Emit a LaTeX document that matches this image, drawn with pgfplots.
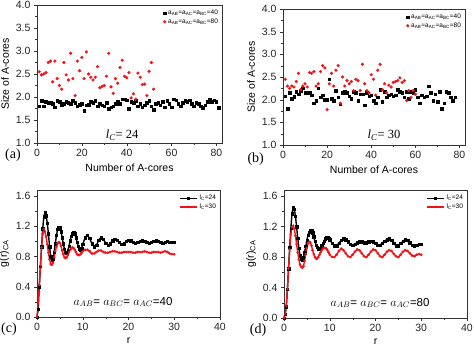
\documentclass[border=0pt]{standalone}
\usepackage{fontspec}
\setmainfont{Liberation Sans}
\newfontfamily\tnr{Liberation Serif}
\usepackage{pgfplots}
\usepackage{pgfplotstable}
\pgfplotsset{compat=1.18}

\pgfplotstableread{
x y
1 2.55
2 2.48
3 2.50
4 2.53
5 2.75
6 2.78
7 2.33
8 2.78
9 2.40
10 2.25
11 2.17
12 2.75
13 2.48
14 2.37
15 2.95
16 2.40
17 2.03
18 2.78
19 2.57
20 2.86
21 2.40
22 2.98
23 2.50
24 2.43
25 2.37
26 2.43
27 2.66
28 2.20
29 2.23
30 2.25
31 2.45
32 2.95
33 2.22
34 2.08
35 2.40
36 2.30
37 2.64
38 2.80
39 2.45
40 2.42
41 2.53
42 1.98
43 2.07
44 1.95
45 2.52
46 2.43
47 2.27
48 2.28
49 2.03
50 2.56
51 2.75
52 2.17
}\redA

\pgfplotstableread{
x y
1 1.80
2 1.92
3 1.80
4 1.90
5 1.87
6 1.88
7 1.85
8 1.78
9 1.92
10 1.90
11 1.83
12 1.85
13 1.90
14 1.87
15 1.86
16 1.92
17 1.88
18 1.80
19 1.83
20 1.85
21 1.70
22 1.82
23 1.83
24 1.90
25 1.88
26 1.92
27 1.80
28 1.85
29 1.82
30 1.80
31 1.87
32 1.75
33 1.78
34 1.80
35 1.85
36 1.90
37 1.85
38 1.95
39 1.95
40 1.93
41 1.75
42 1.90
43 1.88
44 1.92
45 1.80
46 1.85
47 1.78
48 1.82
49 1.88
50 1.92
51 1.80
52 1.73
53 1.85
54 1.88
55 1.82
56 1.90
57 1.78
58 1.92
59 1.85
60 1.78
61 1.95
62 1.93
63 1.85
64 1.80
65 1.88
66 1.92
67 1.90
68 1.93
69 1.85
70 1.80
71 1.88
72 1.85
73 1.80
74 1.77
75 1.82
76 1.90
77 1.95
78 1.90
79 1.93
80 1.90
81 1.77
}\blackA

\pgfplotstableread{
x y
1 2.45
2 2.30
3 2.25
4 2.30
5 2.28
6 2.40
7 2.58
8 2.22
9 2.30
10 2.35
11 2.28
12 2.60
13 2.58
14 2.62
15 2.30
16 2.35
17 2.62
18 2.75
19 2.70
20 1.78
21 2.35
22 2.58
23 2.30
24 2.65
25 2.75
26 1.92
27 2.50
28 2.30
29 2.42
30 2.35
31 2.40
32 2.20
33 2.45
34 2.42
35 2.20
36 2.78
37 2.35
38 2.20
39 2.15
40 2.55
41 2.45
42 2.10
43 2.65
44 2.78
45 2.22
46 2.35
47 2.15
48 2.32
49 2.28
50 2.38
51 2.40
52 2.42
53 2.48
54 2.38
55 2.42
56 1.98
57 2.20
58 2.05
59 2.20
60 2.12
}\redB

\pgfplotstableread{
x y
1 2.08
2 1.80
3 2.15
4 2.02
5 2.07
6 2.18
7 2.12
8 2.20
9 2.25
10 2.15
11 2.15
12 2.15
13 2.10
14 1.92
15 1.98
16 2.25
17 2.05
18 2.10
19 2.00
20 2.00
21 2.45
22 2.02
23 1.98
24 2.20
25 2.05
26 1.90
27 2.15
28 2.18
29 2.15
30 2.08
31 2.02
32 2.18
33 2.15
34 1.98
35 2.12
36 2.12
37 1.88
38 2.15
39 2.08
40 2.10
41 1.98
42 1.92
43 2.05
44 2.22
45 1.95
46 2.18
47 2.05
48 2.10
49 2.12
50 2.08
51 2.10
52 2.22
53 2.18
54 2.15
55 2.05
56 2.18
57 2.02
58 2.18
59 2.15
60 2.22
61 2.05
62 1.92
63 2.10
64 2.05
65 2.08
66 2.30
67 2.15
68 1.98
69 2.12
70 1.95
71 2.18
72 1.80
73 1.92
74 2.18
75 2.15
76 2.05
77 1.98
78 2.05
}\blackB

\pgfplotstableread{
r g
0 0.00
0.25 0.10
0.5 0.40
0.75 0.67
1.0 0.93
1.25 1.17
1.5 1.33
1.75 1.38
2.0 1.34
2.25 1.24
2.5 1.10
2.75 0.93
3.0 0.80
3.25 0.75
3.5 0.77
3.75 0.86
4.0 0.97
4.25 1.08
4.5 1.16
4.75 1.19
5.0 1.18
5.25 1.13
5.5 1.05
5.75 0.97
6.0 0.90
6.25 0.86
6.5 0.85
6.75 0.88
7.0 0.94
7.25 1.01
7.5 1.07
7.75 1.11
8.0 1.12
8.25 1.10
8.5 1.05
8.75 0.99
9.0 0.94
9.25 0.90
9.5 0.89
9.75 0.91
10.0 0.96
10.5 1.05
11.0 1.08
11.5 1.04
12.0 0.97
12.5 0.93
13.0 0.95
13.5 1.02
14.0 1.05
14.5 1.03
15.0 0.98
15.5 0.95
16.0 0.97
16.5 1.01
17.0 1.03
17.5 1.02
18.0 0.99
18.5 0.96
19.0 0.97
19.5 1.00
20.0 1.02
20.5 1.01
21.0 0.99
21.5 0.98
22.0 0.99
22.5 1.00
23.0 1.01
23.5 1.00
24.0 0.99
24.5 0.98
25.0 0.99
25.5 1.00
26.0 1.01
26.5 1.00
27.0 0.99
27.5 0.98
28.0 0.99
28.5 1.00
29.0 0.99
29.5 0.99
30.0 0.99
}\gcblack

\pgfplotstableread{
r g
0 0.00
0.25 0.20
0.5 0.42
0.75 0.68
1.0 0.92
1.25 1.10
1.5 1.16
1.75 1.13
2.0 1.06
2.25 0.96
2.5 0.85
2.75 0.76
3.0 0.70
3.25 0.69
3.5 0.72
3.75 0.79
4.0 0.87
4.25 0.93
4.5 0.97
4.75 0.99
5.0 0.98
5.25 0.94
5.5 0.88
5.75 0.83
6.0 0.79
6.25 0.78
6.5 0.79
6.75 0.82
7.0 0.86
7.25 0.89
7.5 0.91
7.75 0.92
8.0 0.91
8.25 0.89
8.5 0.86
8.75 0.83
9.0 0.82
9.25 0.82
9.5 0.83
9.75 0.85
10.0 0.87
10.5 0.89
11.0 0.89
11.5 0.87
12.0 0.84
12.5 0.84
13.0 0.86
13.5 0.88
14.0 0.88
14.5 0.86
15.0 0.85
15.5 0.85
16.0 0.86
16.5 0.87
17.0 0.87
17.5 0.86
18.0 0.85
18.5 0.85
19.0 0.86
19.5 0.86
20.0 0.86
20.5 0.86
21.0 0.85
21.5 0.85
22.0 0.86
22.5 0.86
23.0 0.86
23.5 0.87
24.0 0.86
24.5 0.85
25.0 0.85
25.5 0.86
26.0 0.86
26.5 0.86
27.0 0.85
27.5 0.86
28.0 0.87
28.5 0.86
29.0 0.84
29.5 0.83
30.0 0.83
}\gcred

\pgfplotstableread{
r g
0 0.00
0.25 0.05
0.5 0.15
0.75 0.38
1.0 0.65
1.25 0.93
1.5 1.18
1.75 1.37
2.0 1.45
2.25 1.43
2.5 1.34
2.75 1.20
3.0 1.05
3.25 0.92
3.5 0.82
3.75 0.77
4.0 0.76
4.25 0.79
4.5 0.86
4.75 0.94
5.0 1.02
5.25 1.09
5.5 1.13
5.75 1.15
6.0 1.15
6.25 1.12
6.5 1.07
6.75 1.01
7.0 0.96
7.25 0.93
7.5 0.91
7.75 0.91
8.0 0.92
8.25 0.95
8.5 0.98
8.75 1.01
9.0 1.04
9.25 1.06
9.5 1.06
9.75 1.05
10.0 1.03
10.5 0.98
11.0 0.95
11.5 0.95
12.0 0.98
12.5 1.02
13.0 1.04
13.5 1.03
14.0 1.00
14.5 0.97
15.0 0.96
15.5 0.97
16.0 0.99
16.5 1.00
17.0 1.00
17.5 0.99
18.0 0.99
18.5 1.00
19.0 1.01
19.5 1.00
20.0 0.98
20.5 0.96
21.0 0.96
21.5 0.98
22.0 1.01
22.5 1.03
23.0 1.04
23.5 1.02
24.0 0.98
24.5 0.95
25.0 0.95
25.5 0.98
26.0 1.01
26.5 1.03
27.0 1.02
27.5 0.99
28.0 0.96
28.5 0.95
29.0 0.96
29.5 0.97
30.0 0.97
}\gdblack

\pgfplotstableread{
r g
0 0.00
0.25 0.05
0.5 0.16
0.75 0.38
1.0 0.65
1.25 0.90
1.5 1.10
1.75 1.19
2.0 1.21
2.25 1.17
2.5 1.08
2.75 0.97
3.0 0.86
3.25 0.77
3.5 0.70
3.75 0.67
4.0 0.66
4.25 0.68
4.5 0.75
4.75 0.84
5.0 0.92
5.25 0.98
5.5 1.00
5.75 0.99
6.0 0.95
6.25 0.89
6.5 0.84
6.75 0.80
7.0 0.78
7.25 0.78
7.5 0.80
7.75 0.83
8.0 0.86
8.25 0.89
8.5 0.91
8.75 0.92
9.0 0.92
9.25 0.91
9.5 0.89
9.75 0.86
10.0 0.83
10.5 0.80
11.0 0.80
11.5 0.83
12.0 0.88
12.5 0.91
13.0 0.89
13.5 0.85
14.0 0.81
14.5 0.80
15.0 0.83
15.5 0.87
16.0 0.90
16.5 0.89
17.0 0.85
17.5 0.81
18.0 0.80
18.5 0.83
19.0 0.87
19.5 0.90
20.0 0.89
20.5 0.85
21.0 0.81
21.5 0.80
22.0 0.83
22.5 0.87
23.0 0.89
23.5 0.88
24.0 0.84
24.5 0.81
25.0 0.80
25.5 0.83
26.0 0.87
26.5 0.89
27.0 0.88
27.5 0.85
28.0 0.82
28.5 0.81
29.0 0.83
29.5 0.84
30.0 0.83
}\gdred

\definecolor{myred}{RGB}{240,20,25}

\pgfplotsset{
  panel/.style={
    scale only axis,
    clip=false,
    axis line style={black!80},
    tick style={black!80},
    tick align=outside,
    tick pos=left,
    major tick length=3pt,
    minor tick length=1.8pt,
    font=\fontsize{10.5}{12}\selectfont,
    ticklabel style={font=\fontsize{10.5}{12}\selectfont, text=black!85},
    /pgf/number format/assume math mode=true,
    minor x tick num=1,
    minor y tick num=1,
    legend cell align=left,
    legend style={draw=none, fill=none, font=\fontsize{6.5}{7.5}\selectfont,
      at={(0.995,0.985)}, anchor=north east, row sep=-1.5pt, inner sep=1pt},
  },
  scat/.style={panel, xmin=0, xmax=82.5, ymin=1, ymax=4,
    xtick={0,20,40,60,80}, ytick={1,1.5,...,4},
    yticklabel style={/pgf/number format/.cd, fixed, fixed zerofill, precision=1},
    xlabel={Number of A-cores}, ylabel={Size of A-cores},
  },
  gr/.style={panel, xmin=0, xmax=40, ymin=0, ymax=1.68,
    xtick={0,10,20,30,40}, ytick={0,0.4,0.8,1.2,1.6},
    yticklabel style={/pgf/number format/.cd, fixed, fixed zerofill, precision=1},
    xlabel={r}, ylabel={g(r)\textsubscript{CA}},
  },
  gline/.style={line width=1.4pt, mark size=1.2pt, mark options={line width=0.3pt}},
}

\begin{document}
\begin{tikzpicture}
\path[use as bounding box] (0,0) rectangle (474pt,347pt);

% (a)
\begin{axis}[scat, at={(37pt,204pt)}, anchor=south west, width=185pt, height=138pt]
\addplot[only marks, mark=square*, mark size=1.3pt, black] table[x=x,y=y] {\blackA};
\addlegendentry{a\textsubscript{AB}=a\textsubscript{AC}=a\textsubscript{BC}=40}
\addplot[only marks, mark=*, mark size=1.4pt, myred] table[x=x,y=y] {\redA};
\addlegendentry{a\textsubscript{AB}=a\textsubscript{AC}=a\textsubscript{BC}=80}
\node[font=\tnr\fontsize{14}{16}\selectfont] at (rel axis cs:-0.13,-0.085) {(a)};
\node[font=\tnr\fontsize{12.5}{14}\selectfont] at (rel axis cs:0.46,0.058) {\textit{l}\textsubscript{\textit{C}}= 24};
\end{axis}

% (b)
\begin{axis}[scat, at={(283pt,202pt)}, anchor=south west, width=182pt, height=136pt]
\addplot[only marks, mark=square*, mark size=1.3pt, black] table[x=x,y=y] {\blackB};
\addlegendentry{a\textsubscript{AB}=a\textsubscript{AC}=a\textsubscript{BC}=40}
\addplot[only marks, mark=*, mark size=1.4pt, myred] table[x=x,y=y] {\redB};
\addlegendentry{a\textsubscript{AB}=a\textsubscript{AC}=a\textsubscript{BC}=80}
\node[font=\tnr\fontsize{14}{16}\selectfont] at (rel axis cs:-0.15,-0.105) {(b)};
\node[font=\tnr\fontsize{12.5}{14}\selectfont] at (rel axis cs:0.555,0.07) {\textit{l}\textsubscript{\textit{C}}= 30};
\end{axis}

% (c)
\begin{axis}[gr, at={(37pt,30pt)}, anchor=south west, width=183pt, height=127pt]
\addplot[black, gline, mark=square*] table[x=r,y=g] {\gcblack};
\addlegendentry{l\textsubscript{C}=24}
\addplot[myred, gline, mark=*] table[x=r,y=g] {\gcred};
\addlegendentry{l\textsubscript{C}=30}
\node[font=\tnr\fontsize{14}{16}\selectfont] at (rel axis cs:-0.153,-0.095) {(c)};
\node[font=\fontsize{11.5}{13}\selectfont] at (rel axis cs:0.47,0.118) {$a_{AB}$= $a_{BC}$= $a_{AC}$=40};
\end{axis}

% (d)
\begin{axis}[gr, at={(284pt,29pt)}, anchor=south west, width=183pt, height=128pt]
\addplot[black, gline, mark=square*] table[x=r,y=g] {\gdblack};
\addlegendentry{l\textsubscript{C}=24}
\addplot[myred, gline, mark=*] table[x=r,y=g] {\gdred};
\addlegendentry{l\textsubscript{C}=30}
\node[font=\tnr\fontsize{14}{16}\selectfont] at (rel axis cs:-0.142,-0.095) {(d)};
\node[font=\fontsize{11.5}{13}\selectfont] at (rel axis cs:0.525,0.117) {$a_{AB}$= $a_{BC}$= $a_{AC}$=80};
\end{axis}
\end{tikzpicture}
\end{document}
